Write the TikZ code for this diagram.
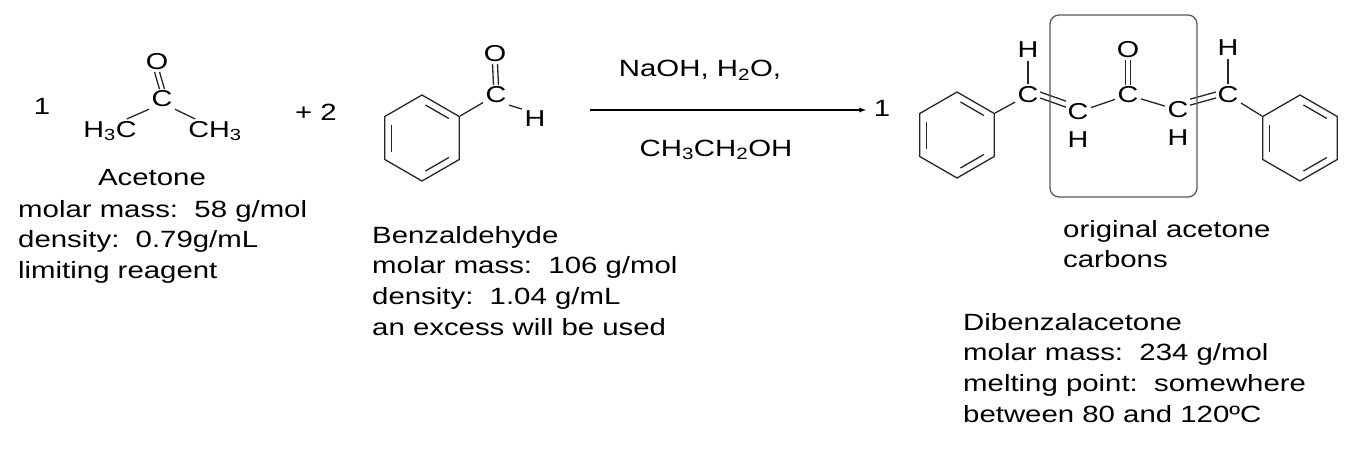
\documentclass[tikz,border=0pt]{standalone}
\usepackage{fontspec}
\setmainfont[FakeStretch=1.25]{Liberation Sans}
\usetikzlibrary{calc}
\tikzset{
  txt/.style={inner sep=0pt,font=\fontsize{23.5}{30.7}\selectfont},
  blk/.style={txt,align=left,anchor=north west},
  atom/.style={inner sep=1.5pt,font=\fontsize{23}{24}\selectfont},
  bond/.style={line width=1.3pt,black!85},
  pbond/.style={bond,shorten >=1pt,shorten <=1pt},
}
\newcommand{\benzring}[3]{%
  \coordinate (#1) at (#2,#3);
  \foreach \a in {30,90,150,210,270,330} {
    \coordinate (#1v\a) at ($(#1)+(-\a:43)$);
    \coordinate (#1i\a) at ($(#1)+(-\a:35)$);}
  \draw[bond] (#1v90)--(#1v150)--(#1v210)--(#1v270)--(#1v330)--(#1v30)--cycle;
  \foreach \a/\b in {30/90,150/210,270/330}{
    \draw[bond,shorten <=4pt,shorten >=4pt] (#1i\a) -- (#1i\b);}
}
\begin{document}
\begin{tikzpicture}[x=1pt,y=-1pt]
\useasboundingbox (0,0) rectangle (1358,460);
% acetone
\node[txt] (n1) at (42,106) {1};
\node[atom] (aO) at (157,62) {O};
\node[atom] (aC) at (162,99) {C};
\node[atom] (aL) at (110,131) {H\textsubscript{3}C};
\node[atom] (aR) at (215,131) {CH\textsubscript{3}};
\draw[bond] ([xshift=-2.5pt]aO.south) -- ([xshift=-2.5pt]aC.north);
\draw[bond] ([xshift=2.5pt]aO.south) -- ([xshift=2.5pt]aC.north);
\draw[pbond] (aC.south west) -- ([xshift=16pt]aL.north);
\draw[pbond] (aC.south east) -- ([xshift=-19pt]aR.north);
\node[txt] (acn) at (152,178) {Acetone};
\node[blk] (acb) at (18,200) {molar mass:\ \ 58 g/mol\\density:\ \ 0.79g/mL\\limiting reagent};
\node[txt] (plus) at (316,112) {+ 2};
% benzaldehyde
\benzring{b}{422}{138}
\node[atom] (bC) at (496,95) {C};
\node[atom] (bO) at (495,54) {O};
\node[atom] (bH) at (535,119) {H};
\draw[bond] ([xshift=-2.5pt]bO.south) -- ([xshift=-2.5pt]bC.north);
\draw[bond] ([xshift=2.5pt]bO.south) -- ([xshift=2.5pt]bC.north);
\draw[pbond] (bv30) -- (bC);
\draw[pbond] (bC.south east) -- (bH.north west);
\node[blk] (bb) at (372,226) {Benzaldehyde\\molar mass:\ \ 106 g/mol\\density:\ \ 1.04 g/mL\\an excess will be used};
% arrow
\coordinate (ar1) at (590,110);
\coordinate (ar2) at (866,110);
\draw[line width=1.3pt,-latex] (ar1) -- (ar2);
\node[txt] (cond1) at (700,70) {NaOH, H\textsubscript{2}O,};
\node[txt] (cond2) at (716,150) {CH\textsubscript{3}CH\textsubscript{2}OH};
\node[txt] (n3) at (882,108) {1};
% product
\benzring{l}{957}{135}
\benzring{r}{1300}{138}
\node[atom] (c1) at (1028,95) {C};
\node[atom] (h1) at (1028,50) {H};
\node[atom] (c2) at (1078,112) {C};
\node[atom] (h2) at (1078,140) {H};
\node[atom] (c3) at (1128,95) {C};
\node[atom] (o3) at (1128,50) {O};
\node[atom] (c4) at (1178,110) {C};
\node[atom] (h4) at (1178,138) {H};
\node[atom] (c5) at (1228,95) {C};
\node[atom] (h5) at (1228,48) {H};
\draw[pbond] (lv30) -- (c1);
\draw[pbond] (rv150) -- (c5);
\draw[pbond] (h1) -- (c1);
\draw[pbond] (h5) -- (c5);
\draw[bond] ([xshift=-2.5pt]o3.south) -- ([xshift=-2.5pt]c3.north);
\draw[bond] ([xshift=2.5pt]o3.south) -- ([xshift=2.5pt]c3.north);
\draw[pbond] (c2) -- (c3);
\draw[pbond] (c3) -- (c4);
\draw[bond] ([yshift=-3pt]c1.east) -- ([yshift=-5pt]c2.north west);
\draw[bond] ([yshift=3pt]c1.east) -- ([yshift=1pt]c2.north west);
\draw[bond] ([yshift=-5pt]c4.north east) -- ([yshift=-3pt]c5.west);
\draw[bond] ([yshift=1pt]c4.north east) -- ([yshift=3pt]c5.west);
\node[draw=black!65,line width=1.3pt,rounded corners=9pt,minimum width=147pt,minimum height=182pt,inner sep=0pt] (box) at (1123.5,106) {};
\node[blk] (orig) at (1063,220) {original acetone\\carbons};
\node[blk] (db) at (963,313) {Dibenzalacetone\\molar mass:\ \ 234 g/mol\\melting point:\ \ somewhere\\between 80 and 120ºC};
\end{tikzpicture}
\end{document}
